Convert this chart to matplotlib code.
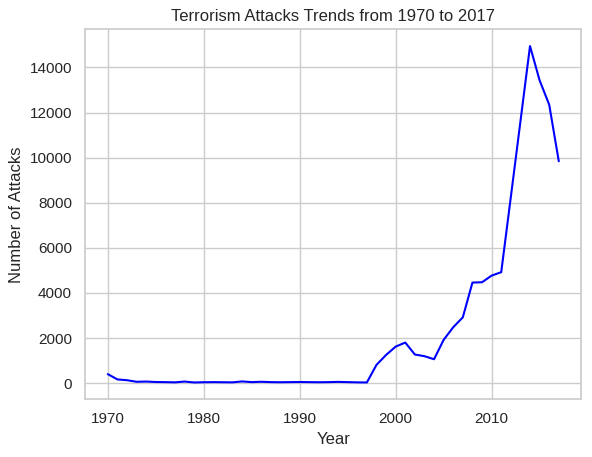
import matplotlib
matplotlib.use("Agg")
import matplotlib.pyplot as plt
import seaborn as sns

sns.set_theme(style="whitegrid")
plt.rcParams['font.family'] = ['Liberation Sans', 'DejaVu Sans']

years = list(range(1970, 2018))
attacks = [400, 165, 130, 60, 70, 50, 45, 35, 70, 30,
           40, 45, 40, 35, 75, 45, 60, 45, 40, 45,
           50, 45, 40, 45, 55, 45, 35, 30, 810, 1250,
           1620, 1800, 1270, 1195, 1060, 1920, 2480, 2920, 4460, 4475,
           4770, 4920, 8250, 11600, 14950, 13430, 12350, 9840]

fig, ax = plt.subplots(figsize=(5.92, 4.57), dpi=100)
fig.subplots_adjust(left=0.144, right=0.982, top=0.936, bottom=0.1263)
ax.plot(years, attacks, color="blue")
ax.set_title("Terrorism Attacks Trends from 1970 to 2017")
ax.set_xlabel("Year")
ax.set_ylabel("Number of Attacks")
fig.savefig("out.png")
